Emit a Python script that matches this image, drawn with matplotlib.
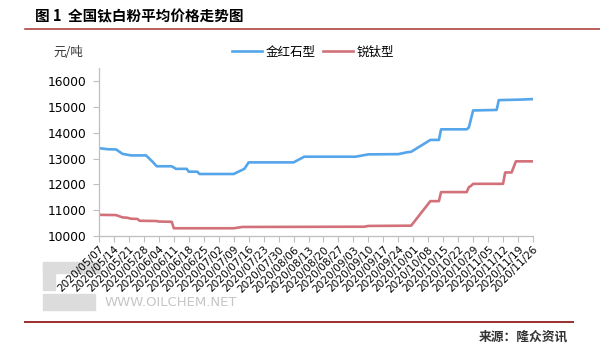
import matplotlib
import pandas as pd

matplotlib.use("Agg")
import matplotlib.pyplot as plt
import matplotlib.dates as mdates
from matplotlib.lines import Line2D
from matplotlib.patches import Rectangle

plt.rcParams["font.family"] = ["Noto Sans CJK SC", "DejaVu Sans"]

# 金红石型 (rutile) price
rutile_dates = [
    "2020-05-07", "2020-05-11", "2020-05-15", "2020-05-18", "2020-05-22",
    "2020-05-29", "2020-06-01", "2020-06-03", "2020-06-10", "2020-06-12",
    "2020-06-17", "2020-06-18", "2020-06-22", "2020-06-23", "2020-07-09",
    "2020-07-14", "2020-07-16", "2020-08-06", "2020-08-11", "2020-09-04",
    "2020-09-10", "2020-09-24", "2020-09-28", "2020-09-30", "2020-10-09",
    "2020-10-13", "2020-10-14", "2020-10-26", "2020-10-27", "2020-10-29",
    "2020-11-09", "2020-11-10", "2020-11-20", "2020-11-26",
]
rutile_values = [
    13400, 13360, 13350, 13180, 13120,
    13120, 12880, 12700, 12700, 12600,
    12600, 12490, 12490, 12400, 12400,
    12600, 12850, 12850, 13070, 13070,
    13160, 13170, 13240, 13260, 13720,
    13720, 14130, 14130, 14200, 14860,
    14880, 15260, 15280, 15300,
]

# 锐钛型 (anatase) price
anatase_dates = [
    "2020-05-07", "2020-05-15", "2020-05-18", "2020-05-20", "2020-05-22",
    "2020-05-25", "2020-05-26", "2020-06-03", "2020-06-04", "2020-06-10",
    "2020-06-11", "2020-07-09", "2020-07-13", "2020-09-08", "2020-09-10",
    "2020-09-30", "2020-10-09", "2020-10-13", "2020-10-14", "2020-10-26",
    "2020-10-27", "2020-10-28", "2020-10-29", "2020-11-12", "2020-11-13",
    "2020-11-16", "2020-11-18", "2020-11-26",
]
anatase_values = [
    10820, 10810, 10720, 10710, 10670,
    10660, 10590, 10580, 10560, 10550,
    10300, 10300, 10350, 10360, 10390,
    10400, 11350, 11350, 11700, 11700,
    11890, 11940, 12020, 12020, 12460,
    12460, 12890, 12890,
]

tick_dates = pd.date_range("2020-05-07", "2020-11-26", freq="7D")
y_ticks = [10000, 11000, 12000, 13000, 14000, 15000, 16000]

blue = "#55a5ea"
red = "#d2717a"
axis_grey = "#bfbfbf"

fig = plt.figure(figsize=(6.0, 3.51), dpi=100)
ax = fig.add_axes([0.165, 0.3276, 0.7233, 0.4784])

ax.plot(pd.to_datetime(rutile_dates), rutile_values, color=blue, linewidth=1.9,
        label="金红石型", solid_joinstyle="round")
ax.plot(pd.to_datetime(anatase_dates), anatase_values, color=red, linewidth=1.9,
        label="锐钛型", solid_joinstyle="round")

ax.set_xlim(tick_dates[0], tick_dates[-1])
ax.set_ylim(10000, 16500)
ax.set_yticks(y_ticks)
ax.set_xticks(tick_dates)
ax.xaxis.set_major_formatter(mdates.DateFormatter("%Y/%m/%d"))
for lbl in ax.get_xticklabels():
    lbl.set_rotation(45)
    lbl.set_ha("right")
    lbl.set_va("top")
    lbl.set_rotation_mode("anchor")
    lbl.set_fontfamily("DejaVu Sans")
for lbl in ax.get_yticklabels():
    lbl.set_fontfamily("DejaVu Sans")

ax.tick_params(axis="x", length=4, width=0.8, color=axis_grey, labelsize=7.6, pad=2)
ax.tick_params(axis="y", length=4, width=0.8, color=axis_grey, labelsize=8.8, pad=5)
for side in ["top", "right"]:
    ax.spines[side].set_visible(False)
for side in ["left", "bottom"]:
    ax.spines[side].set_color(axis_grey)
    ax.spines[side].set_linewidth(0.9)
ax.set_facecolor("none")

ax.legend(loc="center left", bbox_to_anchor=(0.386, 0.851), bbox_transform=fig.transFigure,
          ncol=2, frameon=False, fontsize=9, handlelength=2.4, handletextpad=0.3,
          columnspacing=0.6, borderpad=0, borderaxespad=0)

# watermark
wm = "#dcdcdc"
fig.patches.append(Rectangle((43 / 600, 1 - 310 / 351), 52 / 600, 16 / 351,
                             transform=fig.transFigure, color=wm, zorder=-5))
fig.patches.append(Rectangle((43 / 600, 1 - 290 / 351), 12 / 600, 26 / 351,
                             transform=fig.transFigure, color=wm, zorder=-5))
fig.patches.append(Rectangle((43 / 600, 1 - 273 / 351), 57 / 600, 11 / 351,
                             transform=fig.transFigure, color=wm, zorder=-5))
fig.text(105 / 600, 1 - 303 / 351, "WWW.OILCHEM.NET", color="#c6c6c6", fontsize=9.5,
         family="DejaVu Sans", va="center", ha="left", zorder=-4)

fig.text(35 / 600, 1 - 16 / 351, "图 1  全国钛白粉平均价格走势图", fontsize=10.5,
         fontweight="bold", va="center", ha="left")
fig.add_artist(Line2D([25 / 600, 1.0], [1 - 29.3 / 351] * 2, transform=fig.transFigure,
                      color="#a5352f", linewidth=1.1))
fig.text(53 / 600, 1 - 53 / 351, "元/吨", fontsize=9, va="center", ha="left", color="#333333")

fig.add_artist(Line2D([25 / 600, 573 / 600], [1 - 321.7 / 351] * 2, transform=fig.transFigure,
                      color="#9b2d2d", linewidth=1.4))
fig.text(568 / 600, 1 - 337 / 351, "来源：隆众资讯", fontsize=9.2, fontweight="bold",
         va="center", ha="right", color="#333333")

fig.savefig("out.png", dpi=100)
plt.close(fig)
